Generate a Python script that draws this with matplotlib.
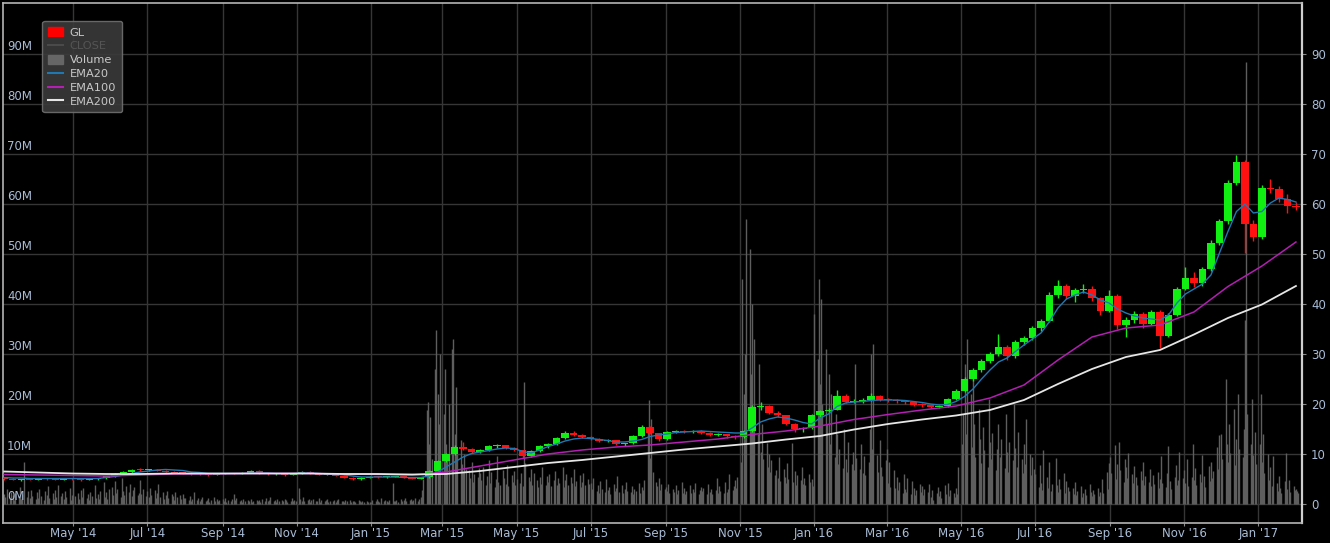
import pandas as pd
import numpy as np
import matplotlib.pyplot as plt
import matplotlib.dates as mdates
from matplotlib.patches import Patch
from matplotlib.lines import Line2D

# weekly candles (one per week, starting Wed 2014-03-05)
opens = [5.1, 5.0, 4.9, 5.0, 4.9, 5.1, 5.0, 4.9, 5.1, 5.0, 4.9, 5.0, 5.2, 5.6, 6.1, 6.5, 6.9, 6.8, 6.9, 6.7,
         6.5, 6.3, 6.2, 6.1, 6.0, 5.8, 6.1, 6.2, 6.1, 6.3, 6.7, 6.2, 6.0, 6.1, 5.8, 6.1, 6.5, 6.1, 5.9, 6.0,
         5.7, 5.3, 5.0, 5.3, 5.5, 5.4, 5.5, 5.6, 5.3, 5.1, 5.4, 6.6, 8.6, 10.1, 11.4, 11.0, 10.4, 10.9, 11.6, 11.8,
         11.2, 10.8, 9.6, 10.6, 11.6, 12.0, 13.2, 14.3, 13.8, 13.4, 13.0, 12.6, 12.8, 12.0, 12.2, 13.6, 15.5, 14.2, 13.0, 14.4,
         14.7, 14.5, 14.7, 14.2, 13.9, 14.0, 13.6, 13.4, 14.6, 19.4, 19.6, 18.3, 17.8, 16.0, 15.0, 15.2, 17.8, 18.6, 18.9, 21.6,
         20.5, 20.6, 20.8, 21.6, 20.9, 20.8, 20.6, 20.4, 19.9, 19.8, 19.5, 19.7, 21.0, 22.6, 25.0, 26.8, 28.6, 30.0, 31.4, 29.6,
         32.4, 33.2, 35.2, 36.6, 41.8, 43.6, 41.6, 42.8, 43.0, 41.2, 38.6, 41.6, 35.8, 36.8, 38.0, 36.0, 38.4, 33.6, 37.8, 43.0,
         45.2, 44.2, 47.0, 52.2, 56.6, 64.2, 68.4, 56.0, 53.4, 63.2, 63.0, 61.0, 59.6]
highs = [5.3, 5.2, 5.1, 5.2, 5.2, 5.3, 5.2, 5.2, 5.3, 5.2, 5.1, 5.3, 5.7, 6.2, 6.6, 7.0, 7.2, 7.0, 7.1, 6.9,
         6.7, 6.5, 6.4, 6.3, 6.1, 6.2, 6.3, 6.3, 6.4, 6.9, 6.8, 6.3, 6.2, 6.2, 6.2, 6.7, 6.6, 6.2, 6.1, 6.1,
         5.8, 5.4, 5.4, 5.6, 5.6, 5.6, 5.7, 5.7, 5.4, 5.5, 6.8, 8.8, 10.3, 11.8, 12.4, 11.2, 11.0, 11.8, 12.0, 11.9,
         11.4, 10.9, 10.8, 11.8, 12.2, 13.4, 14.6, 14.6, 14.0, 13.6, 13.2, 13.1, 12.9, 12.3, 13.8, 15.9, 15.6, 14.3, 14.6, 14.9,
         14.9, 14.9, 14.8, 14.4, 14.2, 14.1, 13.9, 14.8, 19.8, 20.4, 19.8, 18.6, 17.9, 16.2, 15.4, 18.0, 18.8, 19.2, 22.8, 22.0,
         21.0, 21.2, 22.2, 21.8, 21.2, 21.0, 20.9, 20.6, 20.2, 20.0, 19.9, 21.2, 23.0, 25.4, 27.2, 29.0, 30.4, 34.0, 31.8, 32.8,
         33.6, 35.6, 37.0, 42.4, 44.8, 44.0, 43.2, 44.0, 43.6, 41.4, 42.8, 42.0, 37.4, 38.6, 38.4, 38.9, 38.8, 38.2, 43.4, 47.4,
         46.4, 47.4, 52.8, 57.0, 64.8, 69.8, 68.8, 56.8, 63.8, 65.0, 63.6, 62.0, 60.4]
lows = [4.9, 4.8, 4.7, 4.8, 4.8, 4.9, 4.8, 4.8, 4.9, 4.7, 4.8, 4.9, 5.1, 5.5, 6.0, 6.3, 6.7, 6.6, 6.6, 6.4,
        6.2, 6.0, 5.9, 5.8, 5.6, 5.8, 6.0, 6.0, 6.0, 6.2, 6.1, 5.9, 5.9, 5.7, 5.8, 6.0, 6.0, 5.8, 5.8, 5.6,
        5.2, 4.9, 4.9, 5.2, 5.3, 5.3, 5.4, 5.2, 5.0, 5.0, 5.3, 6.5, 8.4, 9.8, 10.8, 10.2, 10.2, 10.7, 11.2, 11.0,
        10.6, 9.2, 9.4, 10.4, 11.3, 11.8, 13.0, 13.6, 13.2, 12.8, 12.4, 12.4, 11.8, 11.6, 12.0, 13.4, 14.0, 12.6, 12.8, 14.2,
        14.2, 14.3, 14.0, 13.6, 13.7, 13.3, 13.0, 13.3, 14.5, 18.8, 18.0, 17.4, 15.8, 14.4, 14.5, 15.0, 17.4, 18.3, 18.8, 20.2,
        20.2, 20.2, 20.6, 20.6, 20.5, 20.3, 20.0, 19.6, 19.5, 19.2, 19.3, 19.5, 20.8, 22.4, 24.6, 26.4, 28.2, 29.6, 28.8, 29.2,
        31.8, 32.8, 34.6, 36.4, 41.2, 41.0, 40.4, 42.2, 40.6, 37.8, 38.4, 35.0, 33.4, 36.2, 35.2, 35.8, 31.2, 33.4, 37.6, 42.8,
        43.4, 43.6, 46.6, 51.8, 56.0, 63.8, 50.2, 52.6, 53.0, 62.2, 60.4, 58.2, 58.8]
closes = [5.0, 4.9, 5.0, 4.9, 5.1, 5.0, 4.9, 5.1, 5.0, 4.9, 5.0, 5.2, 5.6, 6.1, 6.5, 6.9, 6.8, 6.9, 6.7, 6.5,
          6.3, 6.2, 6.1, 6.0, 5.8, 6.1, 6.2, 6.1, 6.3, 6.7, 6.2, 6.0, 6.1, 5.8, 6.1, 6.5, 6.1, 5.9, 6.0, 5.7,
          5.3, 5.0, 5.3, 5.5, 5.4, 5.5, 5.6, 5.3, 5.1, 5.4, 6.6, 8.6, 10.1, 11.4, 11.0, 10.4, 10.9, 11.6, 11.8, 11.2,
          10.8, 9.6, 10.6, 11.6, 12.0, 13.2, 14.3, 13.8, 13.4, 13.0, 12.6, 12.8, 12.0, 12.2, 13.6, 15.5, 14.2, 13.0, 14.4, 14.7,
          14.5, 14.7, 14.2, 13.9, 14.0, 13.6, 13.4, 14.6, 19.4, 19.6, 18.3, 17.8, 16.0, 15.0, 15.2, 17.8, 18.6, 18.9, 21.6, 20.5,
          20.6, 20.8, 21.6, 20.9, 20.8, 20.6, 20.4, 19.9, 19.8, 19.5, 19.7, 21.0, 22.6, 25.0, 26.8, 28.6, 30.0, 31.4, 29.6, 32.4,
          33.2, 35.2, 36.6, 41.8, 43.6, 41.6, 42.8, 43.0, 41.2, 38.6, 41.6, 35.8, 36.8, 38.0, 36.0, 38.4, 33.6, 37.8, 43.0, 45.2,
          44.2, 47.0, 52.2, 56.6, 64.2, 68.4, 56.0, 53.4, 63.2, 63.0, 61.0, 59.6, 59.4]

# EMA20, one value per week
ema20 = [5.3, 5.2, 5.2, 5.1, 5.1, 5.1, 5.1, 5.1, 5.1, 5.1, 5.1, 5.1, 5.3, 5.5, 5.8, 6.1, 6.4, 6.6, 6.8, 6.9,
         6.8, 6.7, 6.4, 6.3, 6.1, 6.1, 6.1, 6.1, 6.1, 6.2, 6.2, 6.2, 6.1, 6.1, 6.1, 6.2, 6.2, 6.1, 6.0, 5.9,
         5.8, 5.6, 5.4, 5.4, 5.4, 5.4, 5.4, 5.3, 5.3, 5.3, 5.6, 6.4, 7.4, 8.4, 9.4, 10.1, 10.4, 10.7, 11.0, 11.2,
         11.1, 10.5, 10.2, 10.8, 11.5, 12.0, 12.6, 13.0, 13.2, 13.1, 12.9, 12.7, 12.4, 12.4, 12.6, 12.9, 13.5, 13.8, 14.0, 14.3,
         14.4, 14.5, 14.6, 14.5, 14.4, 14.3, 14.2, 14.2, 15.2, 16.4, 17.0, 17.4, 17.2, 16.8, 16.3, 16.0, 17.2, 18.0, 19.5, 20.2,
         20.4, 20.5, 20.7, 20.8, 20.8, 20.8, 20.7, 20.5, 20.3, 20.0, 19.8, 19.9, 20.5, 21.5, 23.0, 25.0, 26.8, 28.4, 29.2, 30.5,
         31.8, 33.0, 34.2, 36.5, 39.2, 41.0, 41.8, 42.4, 41.8, 40.8, 40.2, 39.0, 38.2, 37.6, 37.2, 37.0, 36.8, 37.8, 40.2, 42.0,
         43.0, 44.0, 45.8, 50.2, 54.5, 58.5, 60.0, 58.2, 58.5, 60.2, 61.2, 60.9, 60.4]

# EMA100 / EMA200, one value every 4 weeks
ema100 = [5.9, 5.8, 5.7, 5.6, 5.8, 6.0, 6.0, 6.1, 6.1, 6.1, 6.0, 5.9, 5.8, 6.4, 7.6, 8.8, 10.0, 10.8, 11.4, 11.8,
          12.4, 13.0, 13.9, 14.6, 15.6, 16.9, 17.9, 18.8, 19.6, 21.2, 23.8, 28.8, 33.4, 35.2, 35.8, 38.4, 43.5, 47.6, 52.4]
ema200 = [6.5, 6.3, 6.1, 6.0, 6.0, 6.1, 6.1, 6.1, 6.1, 6.1, 6.0, 6.0, 5.9, 6.0, 6.6, 7.4, 8.2, 8.8, 9.5, 10.2,
          10.9, 11.5, 12.1, 12.9, 13.6, 14.9, 16.0, 16.9, 17.7, 18.8, 20.8, 24.0, 27.0, 29.4, 30.8, 33.9, 37.2, 39.9, 43.6]

# daily volume in millions, one row per month (Mar 2014 .. Feb 2017)
volume_m = [
    2.1, 1.4, 3.0, 1.2, 2.5, 1.8, 0.9, 2.2, 1.6, 3.4, 1.1, 2.0, 8.5, 1.5, 2.6, 1.3, 2.9, 1.7, 1.0,
    2.4, 1.2, 3.1, 1.6, 0.8, 2.7, 1.9, 3.6, 1.3, 2.2, 1.0, 2.8, 1.5, 3.9, 1.7, 2.3, 1.1, 2.6, 1.4, 3.2, 0.9, 1.8,
    4.8, 1.6, 2.2, 1.0, 2.9, 1.4, 3.3, 1.2, 2.0, 0.9, 2.5, 1.7, 3.8, 1.3, 2.1, 1.1, 2.7, 4.4, 1.5, 2.4, 1.0, 3.0,
    3.5, 1.8, 4.6, 2.2, 3.0, 1.5, 5.2, 2.6, 1.9, 3.7, 2.4, 4.1, 1.6, 2.8, 3.4, 1.9, 2.3, 4.8, 2.1, 3.1, 1.7,
    2.6, 1.4, 3.3, 1.8, 2.9, 1.2, 2.2, 4.0, 1.5, 2.4, 1.0, 1.9, 2.7, 1.3, 2.1, 1.6, 0.9, 2.5, 1.4, 1.8, 1.1, 2.0, 1.2,
    1.2, 0.8, 1.6, 0.6, 1.1, 2.4, 0.9, 1.3, 0.7, 1.0, 1.5, 0.6, 0.9, 1.2, 0.5, 0.8, 1.4, 0.7, 1.0, 0.6, 0.9,
    1.1, 0.7, 1.3, 0.5, 0.9, 0.6, 1.0, 2.1, 0.8, 1.2, 0.6, 0.9, 0.5, 1.1, 0.7, 0.8, 0.6, 1.0, 0.5, 0.7, 0.9, 0.6,
    0.8, 0.5, 1.0, 0.6, 1.2, 0.7, 0.9, 1.4, 0.6, 0.8, 0.5, 1.1, 0.7, 0.9, 0.6, 1.0, 0.8, 0.5, 0.7, 1.3, 0.6, 0.9, 0.7,
    3.2, 1.0, 0.7, 1.4, 0.6, 0.9, 1.1, 0.5, 0.8, 1.0, 0.6, 0.7, 1.2, 0.5, 0.9, 0.6, 0.8, 1.1, 0.5, 0.7,
    0.6, 0.9, 0.5, 0.8, 1.0, 0.6, 0.7, 0.5, 0.9, 0.6, 0.8, 0.4, 0.7, 0.6, 0.5, 0.9, 0.6, 0.4, 0.7, 0.5, 0.6, 0.4, 0.5,
    0.5, 0.8, 0.6, 1.0, 0.7, 0.5, 1.2, 0.6, 0.9, 0.7, 0.5, 0.8, 4.2, 0.6, 0.7, 0.9, 0.5, 1.0, 0.6, 0.8, 1.3, 0.7,
    0.8, 1.1, 0.6, 0.9, 1.3, 0.7, 1.0, 1.5, 2.8, 5.0, 18.8, 20.4, 12.0, 17.4, 9.0, 27.0, 34.8, 22.0, 16.0, 30.0,
    18.0, 27.0, 12.0, 9.0, 20.0, 31.0, 33.0, 14.0, 23.4, 10.0, 12.8, 8.0, 6.5, 10.0, 7.0, 6.8, 5.2, 8.4, 4.5, 6.0, 5.5, 7.2,
    6.2, 4.8, 7.5, 3.9, 5.6, 8.8, 4.2, 6.4, 3.5, 5.1, 9.6, 4.4, 3.8, 6.9, 5.3, 4.0, 7.8, 3.6, 5.8, 4.5, 6.6, 3.9,
    5.0, 4.2, 6.3, 3.7, 24.4, 8.2, 5.4, 4.6, 7.0, 3.8, 6.2, 4.9, 3.5, 5.5, 4.1, 7.4, 3.9, 5.7, 4.4, 6.0, 3.6,
    4.8, 6.7, 3.9, 5.2, 4.3, 7.4, 3.5, 4.9, 6.1, 3.8, 5.4, 4.2, 7.0, 3.6, 4.7, 5.9, 3.4, 4.5, 6.3, 3.9, 5.0, 4.1,
    4.2, 3.1, 5.3, 2.6, 3.8, 2.2, 4.6, 3.0, 2.4, 5.1, 2.8, 3.5, 2.1, 4.0, 2.7, 3.3, 5.6, 2.5, 3.9, 2.3, 3.1, 4.4, 2.6,
    2.4, 3.6, 2.0, 3.1, 2.7, 4.2, 2.2, 3.4, 2.9, 4.8, 15.4, 20.8, 9.2, 17.0, 6.5, 4.4, 3.6, 5.2, 2.8, 4.0, 3.1,
    3.5, 2.6, 4.1, 2.2, 3.0, 2.4, 3.8, 2.1, 2.9, 4.5, 2.3, 3.2, 2.0, 2.7, 3.9, 2.2, 3.0, 2.5, 4.2, 2.1, 2.8, 3.4,
    2.6, 3.3, 2.1, 4.0, 2.4, 3.1, 2.0, 2.8, 5.2, 2.3, 3.6, 2.7, 2.2, 4.4, 2.5, 3.0, 6.0, 2.9, 3.7, 4.8, 3.2, 5.5,
    8.5, 45.0, 22.0, 30.0, 57.0, 51.0, 26.0, 40.0, 18.0, 33.0, 14.0, 28.0, 10.5, 16.0, 9.0, 12.2, 7.5, 10.0, 6.4, 8.8, 5.9,
    6.8, 5.2, 9.4, 4.6, 7.1, 5.5, 4.2, 8.3, 5.0, 12.2, 4.5, 6.6, 3.9, 5.8, 4.8, 7.4, 4.1, 5.3, 3.8, 6.0, 4.4, 5.1, 3.6,
    38.0, 29.0, 45.0, 24.0, 41.0, 20.0, 31.0, 16.0, 26.0, 12.0, 22.0, 9.5, 18.0, 14.0, 8.0, 11.0, 7.2, 15.0, 9.0, 6.5, 12.5,
    8.0, 10.5, 6.8, 28.0, 9.2, 7.0, 12.0, 6.2, 9.6, 5.8, 8.4, 15.0, 30.0, 11.0, 32.0, 9.8, 6.5, 12.8, 7.4, 5.6, 8.9,
    11.0, 4.2, 8.5, 3.5, 6.8, 3.2, 5.5, 2.8, 4.4, 2.2, 6.1, 3.0, 2.5, 5.2, 2.0, 4.6, 3.3, 1.8, 2.9, 4.0, 2.4, 3.6, 1.9,
    3.0, 2.4, 4.1, 1.5, 2.8, 0.9, 2.2, 3.5, 1.6, 2.6, 1.2, 3.8, 2.1, 4.3, 1.7, 2.9, 2.3, 1.4, 3.3, 2.0, 7.5,
    12.0, 18.0, 28.0, 14.0, 33.0, 22.0, 11.5, 25.0, 16.0, 9.5, 19.0, 13.0, 8.2, 15.5, 10.8, 7.5, 21.0, 12.4, 9.0, 14.2, 6.8, 11.0,
    16.0, 9.5, 13.0, 7.2, 18.0, 10.4, 6.5, 12.5, 8.8, 20.0, 11.2, 7.4, 14.5, 9.0, 6.2, 12.0, 8.1, 17.0, 10.0, 5.8, 9.4, 7.0,
    6.0, 3.5, 7.8, 4.2, 2.8, 10.8, 5.5, 3.2, 8.4, 2.6, 4.0, 9.2, 3.8, 2.4, 5.0, 3.1, 6.2, 2.2, 4.6, 3.4, 2.7,
    3.2, 2.0, 4.4, 1.8, 2.6, 3.6, 1.5, 2.2, 3.0, 1.9, 4.0, 2.4, 1.6, 2.8, 2.1, 3.3, 1.7, 2.5, 5.0, 2.3, 6.4, 3.1, 8.2,
    9.5, 6.2, 11.8, 5.0, 8.0, 12.5, 6.8, 4.5, 9.0, 7.4, 5.2, 10.2, 6.0, 4.2, 7.6, 5.4, 3.8, 6.6, 4.8, 8.5, 3.9, 5.6,
    4.4, 7.0, 3.6, 5.8, 4.0, 6.4, 3.2, 5.0, 9.6, 4.2, 3.4, 6.2, 11.6, 4.6, 3.0, 5.4, 7.8, 3.8, 4.8, 10.4, 5.2,
    6.8, 4.2, 9.0, 3.6, 5.4, 12.0, 4.8, 7.2, 3.8, 6.0, 4.4, 9.8, 5.6, 3.4, 7.6, 4.6, 8.4, 5.2, 6.6, 11.4, 7.0, 13.8,
    14.0, 9.0, 25.0, 12.0, 8.5, 16.0, 10.2, 19.0, 7.8, 13.0, 22.0, 11.0, 9.4, 15.0, 36.8, 88.5, 18.0, 12.0, 21.0, 9.8, 14.5, 8.0,
    12.0, 22.0, 8.5, 14.0, 6.2, 10.0, 4.8, 7.4, 3.6, 9.6, 4.2, 2.6, 5.6, 3.2, 2.2, 4.6, 10.2, 3.0, 4.8, 2.4, 3.6, 2.8,
    3.0, 2.6, 2.2,
]

tick_months = ["2014-05-01", "2014-07-01", "2014-09-01", "2014-11-01", "2015-01-01", "2015-03-01",
               "2015-05-01", "2015-07-01", "2015-09-01", "2015-11-01", "2016-01-01", "2016-03-01",
               "2016-05-01", "2016-07-01", "2016-09-01", "2016-11-01", "2017-01-01"]
price_ticks = [0, 10, 20, 30, 40, 50, 60, 70, 80, 90]

week_dates = pd.date_range("2014-03-05", periods=len(closes), freq="7D")
ema_dates = pd.date_range("2014-03-05", periods=len(ema100), freq="28D")
vol_dates = pd.bdate_range("2014-03-05", periods=len(volume_m))

o = np.array(opens)
h = np.array(highs)
l = np.array(lows)
c = np.array(closes)

text_col = "#a9bcd6"
grid_col = "#363636"

fig = plt.figure(figsize=(13.3, 5.43), dpi=100, facecolor="black")
ax = fig.add_axes([3 / 1330, 20 / 543, 1299 / 1330, 520 / 543])
ax.set_facecolor("black")

# volume
ax.vlines(mdates.date2num(vol_dates), 0, volume_m, color="#5e5e5e", lw=1.0, zorder=1)

# candles
cols = np.where(np.abs(c - o) < 0.05, "#ffff00", np.where(c >= o, "#11ee11", "#ff1111"))
wx = mdates.date2num(week_dates)
ax.vlines(wx, l, h, color=cols, lw=1.0, zorder=3)
body = np.where(np.abs(c - o) < 0.2, 0.2, np.abs(c - o))
ax.bar(wx, body, bottom=np.minimum(o, c), width=6.0, color=cols, lw=0, zorder=3)

# moving averages
ax.plot(week_dates, ema20, color="#1f78b4", lw=1.0, zorder=4)
ax.plot(ema_dates, ema100, color="#b21fb2", lw=1.1, zorder=4)
ax.plot(ema_dates, ema200, color="#e6e6e6", lw=1.3, zorder=4)

ax.set_xlim(mdates.date2num(pd.Timestamp("2014-03-04")), mdates.date2num(pd.Timestamp("2017-02-06")))
ax.set_ylim(-3.8, 100.2)

ticks = [mdates.date2num(pd.Timestamp(t)) for t in tick_months]
ax.set_xticks(ticks)
ax.set_xticklabels([pd.Timestamp(t).strftime("%b '%y") for t in tick_months])
ax.yaxis.tick_right()
ax.set_yticks(price_ticks)
ax.set_yticklabels([str(v) for v in price_ticks])
ax.tick_params(axis="x", colors="#8a8a8a", labelcolor=text_col, labelsize=8.5, length=2.5, pad=0.5)
ax.tick_params(axis="y", colors="#8a8a8a", labelcolor=text_col, labelsize=8.5, length=3, pad=3.5)
ax.grid(True, color=grid_col, lw=1.0, zorder=0)
ax.set_axisbelow(True)

for v in price_ticks:
    ax.text(0.003, v + 0.3, f"{v}M", transform=ax.get_yaxis_transform(), color=text_col,
            fontsize=8.5, ha="left", va="bottom", zorder=6)

for s in ["left", "top", "bottom"]:
    ax.spines[s].set_color("#b5b5b5")
    ax.spines[s].set_linewidth(1.2)
ax.spines["right"].set_color("#cfcfcf")
ax.spines["right"].set_linewidth(1.6)

handles = [Patch(color="#ff0000"),
           Line2D([], [], color="#4a4a4a", lw=1.5),
           Patch(color="#666666"),
           Line2D([], [], color="#1f78b4", lw=1.5),
           Line2D([], [], color="#b21fb2", lw=1.5),
           Line2D([], [], color="#e6e6e6", lw=1.5)]
labels = ["GL", "CLOSE", "Volume", "EMA20", "EMA100", "EMA200"]
leg = ax.legend(handles, labels, loc="upper left", bbox_to_anchor=(0.026, 0.976), fontsize=8.2,
                frameon=True, fancybox=True, facecolor="#3a3a3a", edgecolor="#707070", framealpha=0.9,
                handlelength=1.3, handleheight=0.9, handletextpad=0.6, labelspacing=0.28,
                borderpad=0.5, labelcolor=["#c8c8c8", "#555555", "#c8c8c8", "#c8c8c8", "#c8c8c8", "#c8c8c8"])
leg.set_zorder(10)

fig.savefig("out.png", dpi=100, facecolor="black")
